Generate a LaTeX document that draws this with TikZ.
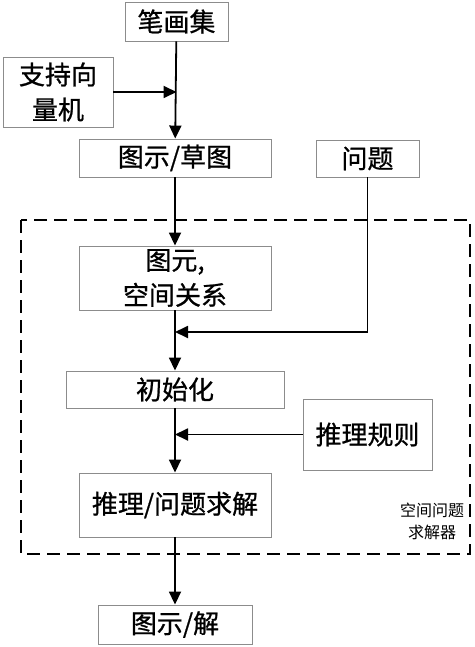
\documentclass[tikz,border=0pt]{standalone}
\usepackage{fontspec}
\setmainfont{Noto Sans CJK SC}
\newfontfamily\boxfont[FakeBold=0.8]{Noto Sans CJK SC}
\usetikzlibrary{arrows.meta,positioning}
\tikzset{
    box/.style={draw=black!45, line width=0.9pt, inner sep=0pt, align=center,
        font=\boxfont\fontsize{26}{35}\selectfont},
    flow/.style={line width=1.8pt, -{Triangle[length=13pt,width=12pt]}},
    solver/.style={draw, line width=1.8pt, dash pattern=on 13pt off 7pt}
}

\begin{document}
\begin{tikzpicture}[x=1pt,y=-1pt]
    \useasboundingbox (0,0) rectangle (474,647);
    % input side
    \node[box, minimum width=103pt, minimum height=39pt] (strokes) at (176.5,21.5) {笔画集};
    \node[box, minimum width=110pt, minimum height=70pt] (svm) at (58,92) {支持向\\量机};
    \node[box, minimum width=192pt, minimum height=38pt] (sketch) at (175,158) {图示/草图};
    \node[box, minimum width=103pt, minimum height=37pt] (question) at (367.5,158.5) {问题};
    %
    % solver
    \draw[solver] (21,220) rectangle (470,554);
    \node[align=center, font=\fontsize{16}{22}\selectfont] (solverlabel) at (432,521) {空间问题\\求解器};
    \node[box, minimum width=192pt, minimum height=64pt] (prims) at (175,278) {图元,\\空间关系};
    \node[box, minimum width=218pt, minimum height=37pt] (init) at (175,389.5) {初始化};
    \node[box, minimum width=129pt, minimum height=71pt] (rules) at (367.5,434.5) {推理规则};
    \node[box, minimum width=192pt, minimum height=64pt] (solve) at (175,505) {推理/问题求解};
    \node[box, minimum width=154pt, minimum height=39pt] (result) at (175,624.5) {图示/解};
    %
    \coordinate (svmjoin) at (strokes.south |- svm.east);
    \coordinate (qjoin) at (175,332);
    \coordinate (rulejoin) at (init.south |- rules.west);
    \draw[flow] (strokes) -- (sketch);
    \draw[flow] (svm.east) -- (svmjoin);
    \draw[flow] (sketch) -- (prims);
    \draw[flow] (question.south) |- (qjoin);
    \draw[flow] (prims) -- (init);
    \draw[flow] (rules.west) -- (rulejoin);
    \draw[flow] (init) -- (solve);
    \draw[flow] (solve) -- (result);
\end{tikzpicture}
\end{document}
